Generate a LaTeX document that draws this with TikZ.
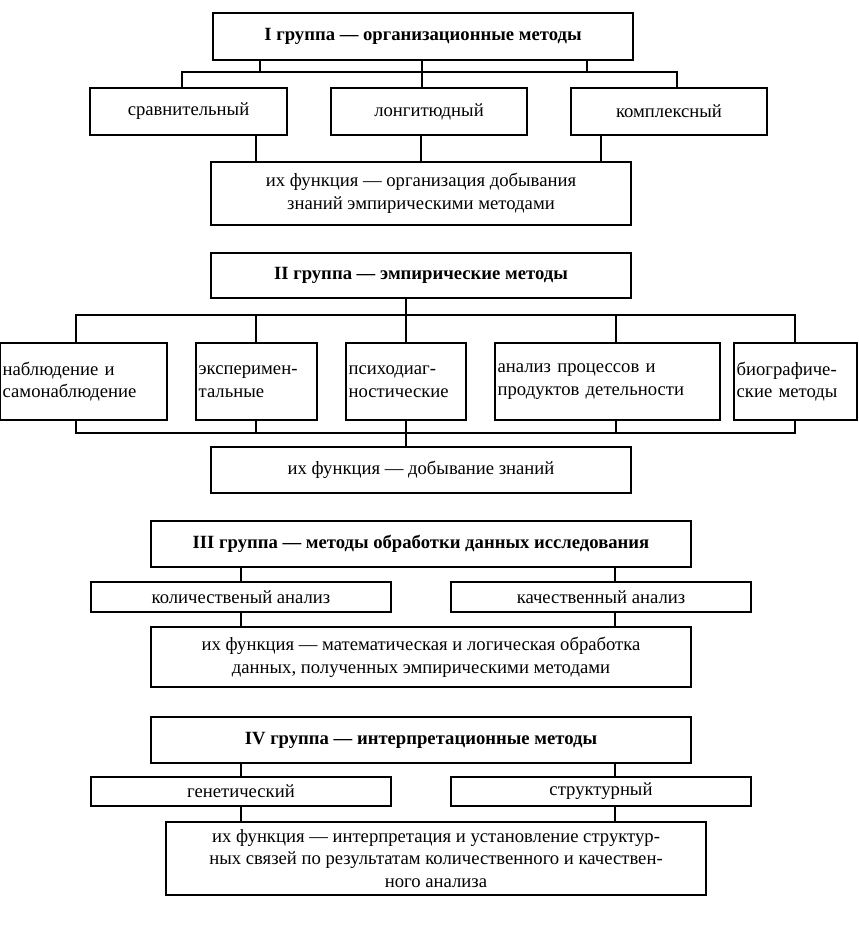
\documentclass[tikz,border=0pt]{standalone}
\usepackage{fontspec}
\setmainfont{Liberation Serif}
\begin{document}
\newcommand{\mybx}[7][]{%
  \node[box,#1,minimum width={(#5-#3)*0.75pt},minimum height={(#6-#4)*0.75pt}] (#2) at ({(#3+#5)/2},{(#4+#6)/2}) {#7};}
\begin{tikzpicture}[x=0.75pt,y=-0.75pt,
  box/.style={draw,line width=1.6pt,inner sep=1pt,align=center,font=\fontsize{14}{17}\selectfont},
  ttl/.style={font=\fontsize{14}{17}\selectfont\bfseries},
  lt/.style={align=left,text width={(#1)*0.75pt-4pt}},
  ln/.style={line width=1.6pt}]
\useasboundingbox (0,0) rectangle (859,925);
% Group I
\mybx[ttl]{t1}{213}{13}{633}{60}{I группа — организационные методы}
\mybx{a1}{90}{88}{287}{135}{сравнительный}
\mybx{a2}{331}{88}{527}{135}{лонгитюдный}
\mybx{a3}{571}{88}{767}{135}{комплексный}
\mybx{f1}{211}{162}{631}{225}{их функция — организация добывания\\знаний эмпирическими методами}
\coordinate (b1l) at (182,72); \coordinate (b1r) at (677,72);
\draw[ln] (a1.north-|b1l) -- (b1l) -- (b1r) -- (a3.north-|b1r);
\draw[ln] (t1.south-|260,0) -- (260,72);
\draw[ln] (t1.south-|587,0) -- (587,72);
\draw[ln] (t1.south-|422,0) -- (a2.north-|422,0);
\draw[ln] (a1.south-|256,0) -- (f1.north-|256,0);
\draw[ln] (a2.south-|421,0) -- (f1.north-|421,0);
\draw[ln] (a3.south-|601,0) -- (f1.north-|601,0);
% Group II
\mybx[ttl]{t2}{211}{253}{631}{298}{II группа — эмпирические методы}
\mybx[lt=167]{c1}{0}{343}{167}{420}{наблюдение и\\самонаблюдение}
\mybx[lt=121]{c2}{196}{343}{317}{420}{эксперимен-\\тальные}
\mybx[lt=120]{c3}{346}{343}{466}{420}{психодиаг-\\ностические}
\mybx[lt=225]{c4}{495}{343}{720}{420}{анализ процессов и\\продуктов детельности}
\mybx[lt=123]{c5}{734}{343}{857}{420}{биографиче-\\ские методы}
\mybx{f2}{211}{447}{631}{493}{их функция — добывание знаний}
\coordinate (u1) at (76,315); \coordinate (u2) at (795,315);
\coordinate (d1) at (76,433); \coordinate (d2) at (795,433);
\draw[ln] (c1.north-|u1) -- (u1) -- (u2) -- (c5.north-|u2);
\draw[ln] (c1.south-|d1) -- (d1) -- (d2) -- (c5.south-|d2);
\draw[ln] (t2.south-|406,0) -- (c3.north-|406,0);
\draw[ln] (c3.south-|406,0) -- (f2.north-|406,0);
\draw[ln] (256,315) -- (c2.north-|256,0);
\draw[ln] (616,315) -- (c4.north-|616,0);
\draw[ln] (c2.south-|256,0) -- (256,433);
\draw[ln] (c4.south-|616,0) -- (616,433);
% Group III
\mybx[ttl]{t3}{151}{521}{691}{567}{III группа — методы обработки данных исследования}
\mybx{k1}{91}{582}{391}{612}{количественый анализ}
\mybx{k2}{451}{582}{751}{612}{качественный анализ}
\mybx{f3}{151}{627}{691}{687}{их функция — математическая и логическая обработка\\данных, полученных эмпирическими методами}
\draw[ln] (t3.south-|241,0) -- (k1.north-|241,0);
\draw[ln] (t3.south-|615,0) -- (k2.north-|615,0);
\draw[ln] (k1.south-|241,0) -- (f3.north-|241,0);
\draw[ln] (k2.south-|615,0) -- (f3.north-|615,0);
% Group IV
\mybx[ttl]{t4}{151}{717}{691}{763}{IV группа — интерпретационные методы}
\mybx{g1}{91}{777}{391}{806}{генетический}
\mybx{g2}{451}{777}{751}{806}{структурный}
\mybx{f4}{166}{822}{706}{895}{их функция — интерпретация и установление структур-\\ных связей по результатам количественного и качествен-\\ного анализа}
\draw[ln] (t4.south-|241,0) -- (g1.north-|241,0);
\draw[ln] (t4.south-|615,0) -- (g2.north-|615,0);
\draw[ln] (g1.south-|241,0) -- (f4.north-|241,0);
\draw[ln] (g2.south-|615,0) -- (f4.north-|615,0);
\end{tikzpicture}
\end{document}
